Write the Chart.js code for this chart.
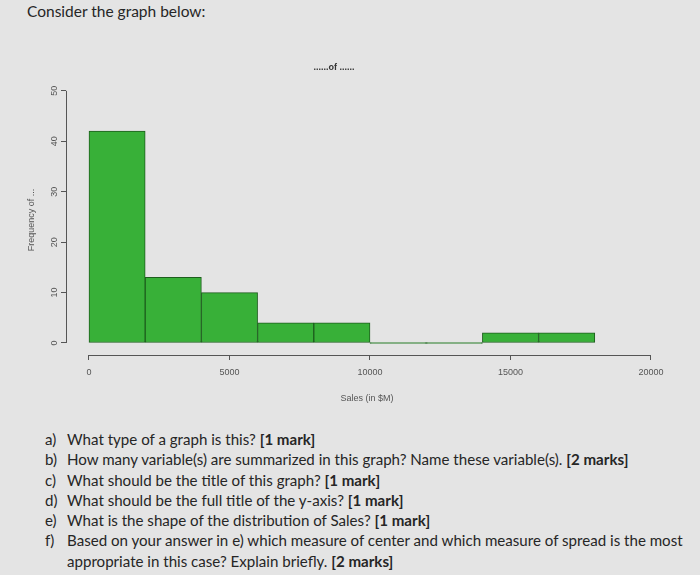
<!DOCTYPE html>
<html>
<head>
<meta charset="utf-8">
<script src="https://cdn.jsdelivr.net/npm/chart.js@4.4.1/dist/chart.umd.min.js"></script>
<style>
    html, body { margin: 0; padding: 0; }
    body {
        width: 700px;
        height: 575px;
        position: relative;
        overflow: hidden;
        background: #e4e4e4;
        font-family: Lato, "Open Sans", sans-serif;
        color: #262626;
    }
    #heading {
        position: absolute;
        left: 27px;
        top: 2px;
        font-size: 15.5px;
    }
    #chart-box {
        position: absolute;
        left: 0;
        top: 40px;
        width: 700px;
        height: 370px;
    }
    #questions {
        position: absolute;
        left: 45px;
        top: 429px;
        width: 650px;
        font-size: 15.1px;
        line-height: 20.3px;
    }
    #questions div { padding-left: 22px; text-indent: -22px; }
    #questions span.l { display: inline-block; width: 22px; text-indent: 0; }
</style>
</head>
<body>
<div id="heading">Consider the graph below:</div>
<div id="chart-box"><canvas id="histChart"></canvas></div>
<div id="questions">
    <div><span class="l">a)</span>What type of a graph is this? <b>[1 mark]</b></div>
    <div><span class="l">b)</span>How many variable(s) are summarized in this graph? Name these variable(s). <b>[2 marks]</b></div>
    <div><span class="l">c)</span>What should be the title of this graph? <b>[1 mark]</b></div>
    <div><span class="l">d)</span>What should be the full title of the y-axis? <b>[1 mark]</b></div>
    <div><span class="l">e)</span>What is the shape of the distribution of Sales? <b>[1 mark]</b></div>
    <div><span class="l">f)</span>Based on your answer in e) which measure of center and which measure of spread is the most appropriate in this case? Explain briefly. <b>[2 marks]</b></div>
</div>
<script>
// histogram bins (Sales in $M), width 2000
const binStarts = [0, 2000, 4000, 6000, 8000, 10000, 12000, 14000, 16000];
const binWidth = 2000;
const frequencies = [42, 13, 10, 4, 4, 0, 0, 2, 2];
const xTickValues = [0, 5000, 10000, 15000, 20000];
const yTickValues = [0, 10, 20, 30, 40, 50];

const chartTitle = '......of ......';
const xAxisTitle = 'Sales (in $M)';
const yAxisTitle = 'Frequency of ...';

const axisColor = '#555555';

// R style axes: lines only span the tick range, detached from the bars
const rAxes = {
    id: 'rAxes',
    afterDraw(chart) {
        const ctx = chart.ctx;
        const xs = chart.scales.x;
        const ys = chart.scales.y;
        const area = chart.chartArea;
        ctx.save();
        ctx.strokeStyle = axisColor;
        ctx.lineWidth = 1;
        ctx.beginPath();
        ctx.moveTo(xs.getPixelForValue(xTickValues[0]), area.bottom + 0.5);
        ctx.lineTo(xs.getPixelForValue(xTickValues[xTickValues.length - 1]), area.bottom + 0.5);
        ctx.moveTo(area.left + 0.5, ys.getPixelForValue(yTickValues[0]));
        ctx.lineTo(area.left + 0.5, ys.getPixelForValue(yTickValues[yTickValues.length - 1]));
        ctx.stroke();
        ctx.restore();
    }
};

const ctx = document.getElementById('histChart').getContext('2d');

new Chart(ctx, {
    type: 'bar',
    data: {
        datasets: [{
            label: yAxisTitle,
            data: binStarts.map((s, i) => ({ x: s + binWidth / 2, y: frequencies[i] })),
            backgroundColor: '#38b038',
            borderColor: '#1d5e1d',
            borderWidth: 1,
            borderSkipped: false,
            barPercentage: 1,
            categoryPercentage: 1,
            minBarLength: 1
        }]
    },
    options: {
        responsive: true,
        maintainAspectRatio: false,
        animation: false,
        layout: { padding: { left: 0, right: 32, top: 0, bottom: 0 } },
        plugins: {
            legend: { display: false },
            tooltip: { enabled: false },
            title: {
                display: true,
                text: chartTitle,
                color: '#333333',
                font: { family: 'Liberation Sans', size: 9, weight: 'bold' },
                padding: { top: 22, bottom: 12 }
            }
        },
        scales: {
            x: {
                type: 'linear',
                offset: false,
                min: -818,
                max: 20605,
                afterBuildTicks: scale => { scale.ticks = xTickValues.map(v => ({ value: v })); },
                afterFit: scale => { scale.height = 55; },
                grid: {
                    display: true,
                    offset: false,
                    drawOnChartArea: false,
                    drawTicks: true,
                    tickLength: 5,
                    color: axisColor
                },
                border: { display: false },
                ticks: {
                    color: axisColor,
                    padding: 7,
                    maxRotation: 0,
                    callback: v => String(v),
                    font: { family: 'Liberation Sans', size: 9 }
                },
                title: {
                    display: true,
                    text: xAxisTitle,
                    color: axisColor,
                    font: { family: 'Liberation Sans', size: 9 },
                    padding: { top: 0, bottom: 6 }
                }
            },
            y: {
                min: -2.38,
                max: 51.2,
                afterBuildTicks: scale => { scale.ticks = yTickValues.map(v => ({ value: v })); },
                afterFit: scale => { scale.width = 66; },
                grid: {
                    display: true,
                    drawOnChartArea: false,
                    drawTicks: true,
                    tickLength: 5,
                    color: axisColor
                },
                border: { display: false },
                ticks: {
                    color: axisColor,
                    padding: 1,
                    minRotation: 90,
                    maxRotation: 90,
                    crossAlign: 'center',
                    font: { family: 'Liberation Sans', size: 9 }
                },
                title: {
                    display: true,
                    text: yAxisTitle,
                    color: axisColor,
                    font: { family: 'Liberation Sans', size: 9 },
                    padding: { top: 26, bottom: 0 }
                }
            }
        }
    },
    plugins: [rAxes]
});
</script>
</body>
</html>
